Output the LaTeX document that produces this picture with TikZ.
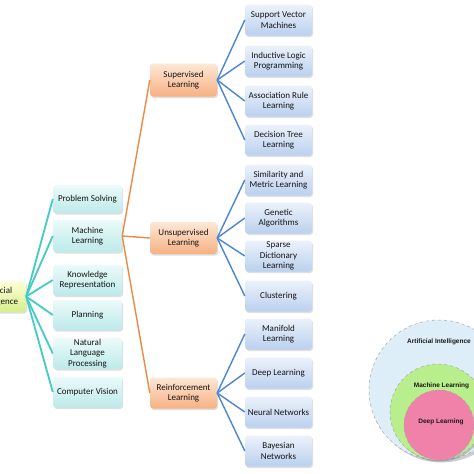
\documentclass[tikz,border=0pt]{standalone}
\usepackage{fontspec}
\setmainfont{Carlito}
\newfontfamily\circfont{Liberation Sans}
\usetikzlibrary{shadows}
\definecolor{tealline}{HTML}{42CCC2}
\definecolor{orangeline}{HTML}{EB8A45}
\definecolor{blueline}{HTML}{4A86D8}
\tikzset{
  basebox/.style={rounded corners=3pt, align=center, inner xsep=2pt, inner ysep=1pt,
    font=\fontsize{9}{10.5}\selectfont, text=black!92,
    drop shadow={shadow xshift=1pt, shadow yshift=-1.5pt, opacity=0.25}},
  rootbox/.style={basebox, minimum width=58pt, minimum height=31pt,
    top color=yellow!15!white, bottom color={rgb,255:red,214;green,238;blue,140}},
  tealbox/.style={basebox, minimum width=69pt, minimum height=31pt,
    top color={rgb,255:red,236;green,250;blue,250}, bottom color={rgb,255:red,188;green,234;blue,233}},
  orangebox/.style={basebox, minimum width=67pt, minimum height=32pt,
    top color={rgb,255:red,253;green,232;blue,214}, bottom color={rgb,255:red,246;green,176;blue,130}},
  bluebox/.style={basebox, minimum width=67pt, minimum height=31pt,
    top color={rgb,255:red,236;green,242;blue,251}, bottom color={rgb,255:red,186;green,208;blue,238}},
  tealconn/.style={tealline, line width=1.8pt},
  orangeconn/.style={orangeline, line width=1.4pt},
  blueconn/.style={blueline, line width=1.4pt},
  circlabel/.style={font=\circfont\bfseries\fontsize{6.5}{7}\selectfont, text=black!90, inner sep=0pt},
  ring/.style={draw=gray!70, dashed, line width=0.5pt}
}
\begin{document}
\begin{tikzpicture}[x=1pt,y=-1pt]
\useasboundingbox (0,0) rectangle (474,474);
\fill[white] (0,0) rectangle (474,474);

% root
\node[rootbox] (ai) at (-3,296.5) {Artificial\\Intelligence};

% level 1
\node[tealbox, minimum height=28pt] (ps) at (87.5,199) {Problem Solving};
\node[tealbox, minimum height=32pt] (ml) at (87.5,236) {Machine\\Learning};
\node[tealbox] (kr) at (87.5,280) {Knowledge\\Representation};
\node[tealbox, minimum height=30pt] (pl) at (87.5,315) {Planning};
\node[tealbox] (nlp) at (87.5,353.5) {Natural\\Language\\Processing};
\node[tealbox] (cv) at (87.5,392) {Computer Vision};

% level 2
\node[orangebox, minimum height=33pt] (sl) at (183.5,80) {Supervised\\Learning};
\node[orangebox] (ul) at (183.5,238) {Unsupervised\\Learning};
\node[orangebox, minimum height=31pt] (rl) at (183.5,393) {Reinforcement\\Learning};

% level 3
\node[bluebox] (svm) at (278.5,20) {Support Vector\\Machines};
\node[bluebox] (ilp) at (278.5,61) {Inductive Logic\\Programming};
\node[bluebox] (arl) at (278.5,101) {Association Rule\\Learning};
\node[bluebox] (dtl) at (278.5,140) {Decision Tree\\Learning};
\node[bluebox] (sml) at (278.5,180) {Similarity and\\Metric Learning};
\node[bluebox] (ga) at (278.5,218) {Genetic\\Algorithms};
\node[bluebox] (sdl) at (278.5,256) {Sparse\\Dictionary\\Learning};
\node[bluebox] (cl) at (278.5,296) {Clustering};
\node[bluebox] (mfl) at (278.5,334) {Manifold\\Learning};
\node[bluebox] (dl) at (278.5,373) {Deep Learning};
\node[bluebox] (nn) at (278.5,412) {Neural Networks};
\node[bluebox] (bn) at (278.5,451) {Bayesian\\Networks};

% connectors
\foreach \t in {ps,ml,kr,pl,nlp,cv} \draw[tealconn] (ai.east) -- (\t.west);
\foreach \t in {sl,ul,rl} \draw[orangeconn] (ml.east) -- (\t.west);
\foreach \t in {svm,ilp,arl,dtl} \draw[blueconn] (sl.east) -- (\t.west);
\foreach \t in {sml,ga,sdl,cl} \draw[blueconn] (ul.east) -- (\t.west);
\foreach \t in {mfl,dl,nn,bn} \draw[blueconn] (rl.east) -- (\t.west);

% nested circles
\fill[black, opacity=0.2] (441.5,392.5) circle (70pt);
\filldraw[ring, fill={rgb,255:red,222;green,238;blue,248}] (439,390) circle (70pt);
\fill[black, opacity=0.2] (439.5,413.5) circle (48pt);
\filldraw[ring, fill={rgb,255:red,184;green,238;blue,140}] (438,412) circle (48pt);
\filldraw[ring, fill={rgb,255:red,240;green,130;blue,170}] (439,425) circle (35pt);
\node[circlabel] (tai) at (439,342) {Artificial Intelligence};
\node[circlabel] (tml) at (441.5,386) {Machine Learning};
\node[circlabel] (tdl) at (441,422) {Deep Learning};
\end{tikzpicture}
\end{document}
